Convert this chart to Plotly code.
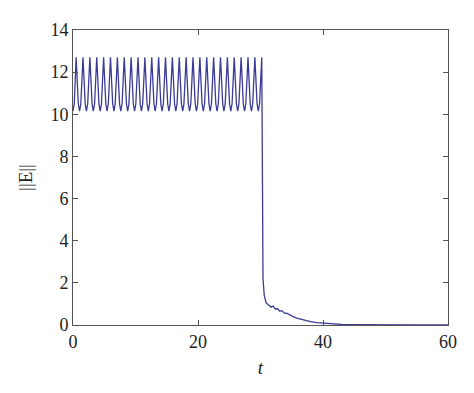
import plotly.graph_objects as go

# Oscillation phase: peak and trough times / values
peak_t = [0.5, 1.6, 2.7, 3.8, 4.9, 6.0, 7.1, 8.2, 9.3, 10.4, 11.5, 12.6, 13.7, 14.8,
          15.9, 17.0, 18.1, 19.2, 20.3, 21.4, 22.5, 23.6, 24.7, 25.8, 26.9, 28.0, 29.1, 30.2]
peak_E = [12.7] * len(peak_t)
trough_t = [0.0, 1.05, 2.15, 3.25, 4.35, 5.45, 6.55, 7.65, 8.75, 9.85, 10.95, 12.05, 13.15,
            14.25, 15.35, 16.45, 17.55, 18.65, 19.75, 20.85, 21.95, 23.05, 24.15, 25.25,
            26.35, 27.45, 28.55, 29.65]
trough_E = [10.15] * len(trough_t)
# shoulders on both sides of each trough (rounded bottoms)
shoulder_t = [0.2, 0.85, 1.25, 1.95, 2.35, 3.05, 3.45, 4.15, 4.55, 5.25, 5.65, 6.35, 6.75,
              7.45, 7.85, 8.55, 8.95, 9.65, 10.05, 10.75, 11.15, 11.85, 12.25, 12.95, 13.35,
              14.05, 14.45, 15.15, 15.55, 16.25, 16.65, 17.35, 17.75, 18.45, 18.85, 19.55,
              19.95, 20.65, 21.05, 21.75, 22.15, 22.85, 23.25, 23.95, 24.35, 25.05, 25.45,
              26.15, 26.55, 27.25, 27.65, 28.35, 28.75, 29.45, 29.85]
shoulder_E = [10.5] * len(shoulder_t)

# Decay phase
decay_t = [30.25, 30.3, 30.4, 30.6, 30.9, 31.3, 31.7, 32.0, 32.4, 32.7, 33.1, 33.4, 33.9,
           34.2, 34.7, 35.2, 35.8, 36.5, 37.2, 38.0, 39.0, 40.0, 41.0, 42.0, 43.0, 44.5,
           46.0, 48.0, 50.0, 55.0, 60.0]
decay_E = [8.0, 4.0, 2.2, 1.4, 1.05, 0.95, 0.85, 0.9, 0.75, 0.78, 0.65, 0.68, 0.55,
           0.56, 0.46, 0.4, 0.33, 0.27, 0.21, 0.16, 0.11, 0.08, 0.05, 0.035, 0.025, 0.015,
           0.008, 0.004, 0.002, 0.0, 0.0]

x_ticks = [0, 20, 40, 60]
y_ticks = [0, 2, 4, 6, 8, 10, 12, 14]

osc = sorted(zip(peak_t + trough_t + shoulder_t, peak_E + trough_E + shoulder_E))
t_all = [p[0] for p in osc] + decay_t
E_all = [p[1] for p in osc] + decay_E

FONT = "Liberation Serif"

fig = go.Figure()
fig.add_trace(go.Scatter(x=t_all, y=E_all, mode="lines",
                         line=dict(color="#3b3b98", width=1.3), showlegend=False))

axis_common = dict(showline=True, linecolor="#555555", linewidth=1, mirror="ticks",
                   ticks="inside", ticklen=5, tickcolor="#555555", showgrid=False,
                   zeroline=False, tickfont=dict(family=FONT, size=18, color="#222222"))

fig.update_xaxes(range=[0, 60], tickvals=x_ticks,
                 title=dict(text="<i>t</i>", font=dict(family=FONT, size=19, color="#222222"), standoff=10),
                 **axis_common)
fig.update_yaxes(range=[0, 14], tickvals=y_ticks,
                 title=dict(text="||E||", font=dict(family=FONT, size=19, color="#222222"), standoff=12),
                 **axis_common)

# the page body has an 8px default margin; margins compensate so the plot area
# lands at x 73..448, y 24..325 in the window
fig.update_layout(width=474, height=393, margin=dict(l=65, r=34, t=16, b=76),
                  plot_bgcolor="white", paper_bgcolor="white")

fig.write_html("out.html")
